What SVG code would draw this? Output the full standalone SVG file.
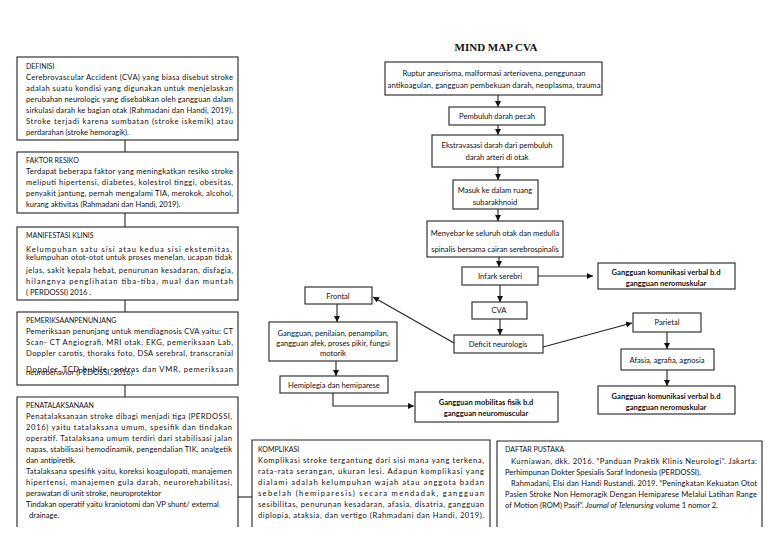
<svg xmlns="http://www.w3.org/2000/svg" width="768" height="543" viewBox="0 0 768 543">
<defs>
<style>
.t{font-family:Lato,"Open Sans","Liberation Sans",sans-serif;font-size:7.6px;fill:#111}
.f{font-size:7.6px}
.h{font-size:7px}
.c{text-anchor:middle}
.b{font-weight:bold}
.box{fill:#fff;stroke:#222;stroke-width:1.1}
.ln{fill:none;stroke:#222;stroke-width:1.1}
.title{font-family:"Liberation Serif","Times New Roman",serif;font-size:11px;font-weight:bold;fill:#111;text-anchor:middle}
</style>
<marker id="ah" markerWidth="6" markerHeight="6" refX="6" refY="3" orient="auto" markerUnits="userSpaceOnUse"><path d="M0,0 L6,3 L0,6 z" fill="#111"/></marker>
</defs>
<rect width="768" height="543" fill="#fff"/>

<text class="title" x="496" y="51">MIND MAP CVA</text>

<g id="connectors">
<line class="ln" x1="125" y1="140" x2="125" y2="152"/>
<line class="ln" x1="125" y1="213" x2="125" y2="227"/>
<line class="ln" x1="125" y1="300" x2="125" y2="312"/>
<line class="ln" x1="125" y1="385" x2="125" y2="397"/>
<line class="ln" x1="238" y1="497" x2="252" y2="497"/>
<line class="ln" x1="498" y1="95" x2="498" y2="107" marker-end="url(#ah)"/>
<line class="ln" x1="498" y1="125" x2="498" y2="135" marker-end="url(#ah)"/>
<line class="ln" x1="498" y1="167" x2="498" y2="180" marker-end="url(#ah)"/>
<line class="ln" x1="498" y1="209" x2="498" y2="221" marker-end="url(#ah)"/>
<line class="ln" x1="499" y1="257" x2="499" y2="267" marker-end="url(#ah)"/>
<line class="ln" x1="538" y1="276" x2="593" y2="276" marker-end="url(#ah)"/>
<line class="ln" x1="500" y1="285" x2="500" y2="302" marker-end="url(#ah)"/>
<line class="ln" x1="500" y1="319" x2="500" y2="335" marker-end="url(#ah)"/>
<line class="ln" x1="454" y1="343" x2="373" y2="297" marker-end="url(#ah)"/>
<line class="ln" x1="337" y1="304" x2="337" y2="322" marker-end="url(#ah)"/>
<line class="ln" x1="336" y1="361" x2="336" y2="376" marker-end="url(#ah)"/>
<polyline class="ln" points="333,393 333,406 414,406" marker-end="url(#ah)"/>
<line class="ln" x1="543" y1="347" x2="632" y2="323" marker-end="url(#ah)"/>
<line class="ln" x1="667" y1="332" x2="667" y2="349" marker-end="url(#ah)"/>
<line class="ln" x1="667" y1="370" x2="667" y2="386" marker-end="url(#ah)"/>
</g>

<g id="definisi">
<rect class="box" x="17" y="57" width="221" height="83"/>
<text class="t h" x="26" y="69">DEFINISI</text>
<text class="t" x="26" y="80" textLength="207" lengthAdjust="spacing">Cerebrovascular Accident (CVA) yang biasa disebut stroke</text>
<text class="t" x="26" y="91" textLength="207" lengthAdjust="spacing">adalah suatu kondisi yang digunakan untuk menjelaskan</text>
<text class="t" x="26" y="102" textLength="207" lengthAdjust="spacing">perubahan neurologic yang disebabkan oleh gangguan dalam</text>
<text class="t" x="26" y="113" textLength="207" lengthAdjust="spacing">sirkulasi darah ke bagian otak (Rahmadani dan Handi, 2019).</text>
<text class="t" x="26" y="124" textLength="207" lengthAdjust="spacing">Stroke terjadi karena sumbatan (stroke iskemik) atau</text>
<text class="t" x="26" y="135">perdarahan (stroke hemoragik).</text>
</g>

<g id="faktor">
<rect class="box" x="17" y="152" width="221" height="61"/>
<text class="t h" x="26" y="163">FAKTOR RESIKO</text>
<text class="t" x="26" y="174" textLength="207" lengthAdjust="spacing">Terdapat beberapa faktor yang meningkatkan resiko stroke</text>
<text class="t" x="26" y="185" textLength="207" lengthAdjust="spacing">meliputi hipertensi, diabetes, kolestrol tinggi, obesitas,</text>
<text class="t" x="26" y="196" textLength="207" lengthAdjust="spacing">penyakit jantung, pernah mengalami TIA, merokok, alcohol,</text>
<text class="t" x="26" y="207">kurang aktivitas (Rahmadani dan Handi, 2019).</text>
</g>

<g id="manifestasi">
<rect class="box" x="17" y="227" width="221" height="73"/>
<text class="t h" x="26" y="238">MANIFESTASI KLINIS</text>
<text class="t" x="26" y="252" textLength="206" lengthAdjust="spacing">Kelumpuhan satu sisi atau kedua sisi ekstemitas,</text>
<text class="t" x="26" y="260" textLength="206" lengthAdjust="spacing">kelumpuhan otot-otot untuk proses menelan, ucapan tidak</text>
<text class="t" x="26" y="273" textLength="207" lengthAdjust="spacing">jelas, sakit kepala hebat, penurunan kesadaran, disfagia,</text>
<text class="t" x="26" y="284" textLength="207" lengthAdjust="spacing">hilangnya penglihatan tiba-tiba, mual dan muntah</text>
<text class="t" x="26" y="295">( PERDOSSI) 2016 .</text>
</g>

<g id="pemeriksaan">
<rect class="box" x="17" y="312" width="221" height="73"/>
<text class="t h" x="26" y="323">PEMERIKSAANPENUNJANG</text>
<text class="t" x="26" y="334" textLength="207" lengthAdjust="spacing">Pemeriksaan penunjang untuk mendiagnosis CVA yaitu: CT</text>
<text class="t" x="26" y="345" textLength="207" lengthAdjust="spacing">Scan- CT Angiografi, MRI otak, EKG, pemeriksaan Lab,</text>
<text class="t" x="26" y="356" textLength="207" lengthAdjust="spacing">Doppler carotis, thoraks foto, DSA serebral, transcranial</text>
<text class="t" x="26" y="372" textLength="207" lengthAdjust="spacing">Doppler, TCD bublle contras dan VMR, pemeriksaan</text>
<text class="t" x="26" y="375">neurobehavior (PEDOSSI, 2016).</text>
</g>

<g id="penatalaksanaan">
<path class="ln" d="M17,527 V397 H238 V527"/>
<text class="t h" x="26" y="408">PENATALAKSANAAN</text>
<text class="t" x="26" y="419" textLength="206" lengthAdjust="spacing">Penatalaksanaan stroke dibagi menjadi tiga (PERDOSSI,</text>
<text class="t" x="26" y="430" textLength="206" lengthAdjust="spacing">2016) yaitu tatalaksana umum, spesifik dan tindakan</text>
<text class="t" x="26" y="441" textLength="206" lengthAdjust="spacing">operatif. Tatalaksana umum terdiri dari stabilisasi jalan</text>
<text class="t" x="26" y="452" textLength="206" lengthAdjust="spacing">napas, stabilisasi hemodinamik, pengendalian TIK, analgetik</text>
<text class="t" x="26" y="463">dan antipiretik.</text>
<text class="t" x="26" y="474" textLength="206" lengthAdjust="spacing">Tatalaksana spesifik yaitu, koreksi koagulopati, manajemen</text>
<text class="t" x="26" y="485" textLength="206" lengthAdjust="spacing">hipertensi, manajemen gula darah, neurorehabilitasi,</text>
<text class="t" x="26" y="496">perawatan di unit stroke, neuroprotektor</text>
<text class="t" x="26" y="507">Tindakan operatif yaitu kraniotomi dan VP shunt/ external</text>
<text class="t" x="29" y="518">drainage.</text>
</g>

<g id="komplikasi">
<path class="ln" d="M252,527 V440 H490 V527"/>
<text class="t h" x="258" y="452">KOMPLIKASI</text>
<text class="t" x="258" y="463" textLength="226" lengthAdjust="spacing">Komplikasi stroke tergantung dari sisi mana yang terkena,</text>
<text class="t" x="258" y="474" textLength="226" lengthAdjust="spacing">rata-rata serangan, ukuran lesi. Adapun komplikasi yang</text>
<text class="t" x="258" y="485" textLength="226" lengthAdjust="spacing">dialami adalah kelumpuhan wajah atau anggota badan</text>
<text class="t" x="258" y="496" textLength="226" lengthAdjust="spacing">sebelah (hemiparesis) secara mendadak, gangguan</text>
<text class="t" x="258" y="507" textLength="226" lengthAdjust="spacing">sesibilitas, penurunan kesadaran, afasia, disatria, gangguan</text>
<text class="t" x="258" y="518" textLength="226" lengthAdjust="spacing">diplopia, ataksia, dan vertigo (Rahmadani dan Handi, 2019).</text>
</g>

<g id="daftar-pustaka">
<path class="ln" d="M497,527 V441 H762 V527"/>
<text class="t h" x="505" y="452">DAFTAR PUSTAKA</text>
<text class="t" x="511" y="464" textLength="246" lengthAdjust="spacing">Kurniawan, dkk. 2016. “Panduan Praktik Klinis Neurologi”. Jakarta:</text>
<text class="t" x="505" y="475">Perhimpunan Dokter Spesialis Saraf Indonesia (PERDOSSI).</text>
<text class="t" x="511" y="486" textLength="246" lengthAdjust="spacing">Rahmadani, Elsi dan Handi Rustandi. 2019. “Peningkatan Kekuatan Otot</text>
<text class="t" x="505" y="497" textLength="252" lengthAdjust="spacing">Pasien Stroke Non Hemoragik Dengan Hemiparese Melalui Latihan Range</text>
<text class="t" x="505" y="508">of Motion (ROM) Pasif”. <tspan font-style="italic">Journal of Telenursing</tspan> volume 1 nomor 2.</text>
</g>

<g id="penyebab">
<rect class="box" x="385" y="62" width="217" height="33"/>
<text class="t f c" x="494" y="76">Ruptur aneurisma, malformasi arteriovena, penggunaan</text>
<text class="t f c" x="494" y="88" textLength="213" lengthAdjust="spacing">antikoagulan, gangguan pembekuan darah, neoplasma, trauma</text>
</g>

<g id="pembuluh">
<rect class="box" x="449" y="107" width="96" height="18"/>
<text class="t f c" x="497" y="119">Pembuluh darah pecah</text>
</g>

<g id="ekstravasasi">
<rect class="box" x="432" y="135" width="131" height="32"/>
<text class="t f c" x="497" y="148">Ekstravasasi darah dari pembuluh</text>
<text class="t f c" x="497" y="160">darah arteri di otak</text>
</g>

<g id="masuk">
<rect class="box" x="453" y="180" width="85" height="29"/>
<text class="t f c" x="495" y="193">Masuk ke dalam ruang</text>
<text class="t f c" x="495" y="205">subarakhnoid</text>
</g>

<g id="menyebar">
<rect class="box" x="427" y="221" width="136" height="36"/>
<text class="t f c" x="495" y="236">Menyebar ke seluruh otak dan medulla</text>
<text class="t f c" x="495" y="252">spinalis bersama cairan serebrospinalis</text>
</g>

<g id="infark">
<rect class="box" x="462" y="267" width="76" height="18"/>
<text class="t f c" x="500" y="279">Infark serebri</text>
</g>

<g id="komunikasi-1">
<rect class="box" x="598" y="263" width="137" height="26"/>
<text class="t f c b" x="666" y="275">Gangguan komunikasi verbal b.d</text>
<text class="t f c b" x="666" y="286">gangguan neromuskular</text>
</g>

<g id="cva">
<rect class="box" x="472" y="302" width="55" height="17"/>
<text class="t f c" x="499" y="313">CVA</text>
</g>

<g id="deficit">
<rect class="box" x="454" y="335" width="89" height="18"/>
<text class="t f c" x="498" y="347">Deficit neurologis</text>
</g>

<g id="frontal">
<rect class="box" x="305" y="287" width="67" height="17"/>
<text class="t f c" x="338" y="299">Frontal</text>
</g>

<g id="gangguan-penilaian">
<rect class="box" x="269" y="322" width="128" height="39"/>
<text class="t f c" x="333" y="336">Gangguan, penilaian, penampilan,</text>
<text class="t f c" x="333" y="346">gangguan afek, proses pikir, fungsi</text>
<text class="t f c" x="333" y="356">motorik</text>
</g>

<g id="hemiplegia">
<rect class="box" x="280" y="376" width="108" height="17"/>
<text class="t f c" x="334" y="388">Hemiplegia dan hemiparese</text>
</g>

<g id="mobilitas">
<rect class="box" x="415" y="392" width="143" height="30"/>
<text class="t f c b" x="486" y="405">Gangguan mobilitas fisik b.d</text>
<text class="t f c b" x="486" y="416">gangguan neuromuscular</text>
</g>

<g id="parietal">
<rect class="box" x="633" y="313" width="68" height="19"/>
<text class="t f c" x="667" y="325">Parietal</text>
</g>

<g id="afasia">
<rect class="box" x="621" y="349" width="93" height="21"/>
<text class="t f c" x="667" y="363">Afasia, agrafia, agnosia</text>
</g>

<g id="komunikasi-2">
<rect class="box" x="598" y="386" width="137" height="28"/>
<text class="t f c b" x="666" y="399">Gangguan komunikasi verbal b.d</text>
<text class="t f c b" x="666" y="410">gangguan neromuskular</text>
</g>
</svg>
